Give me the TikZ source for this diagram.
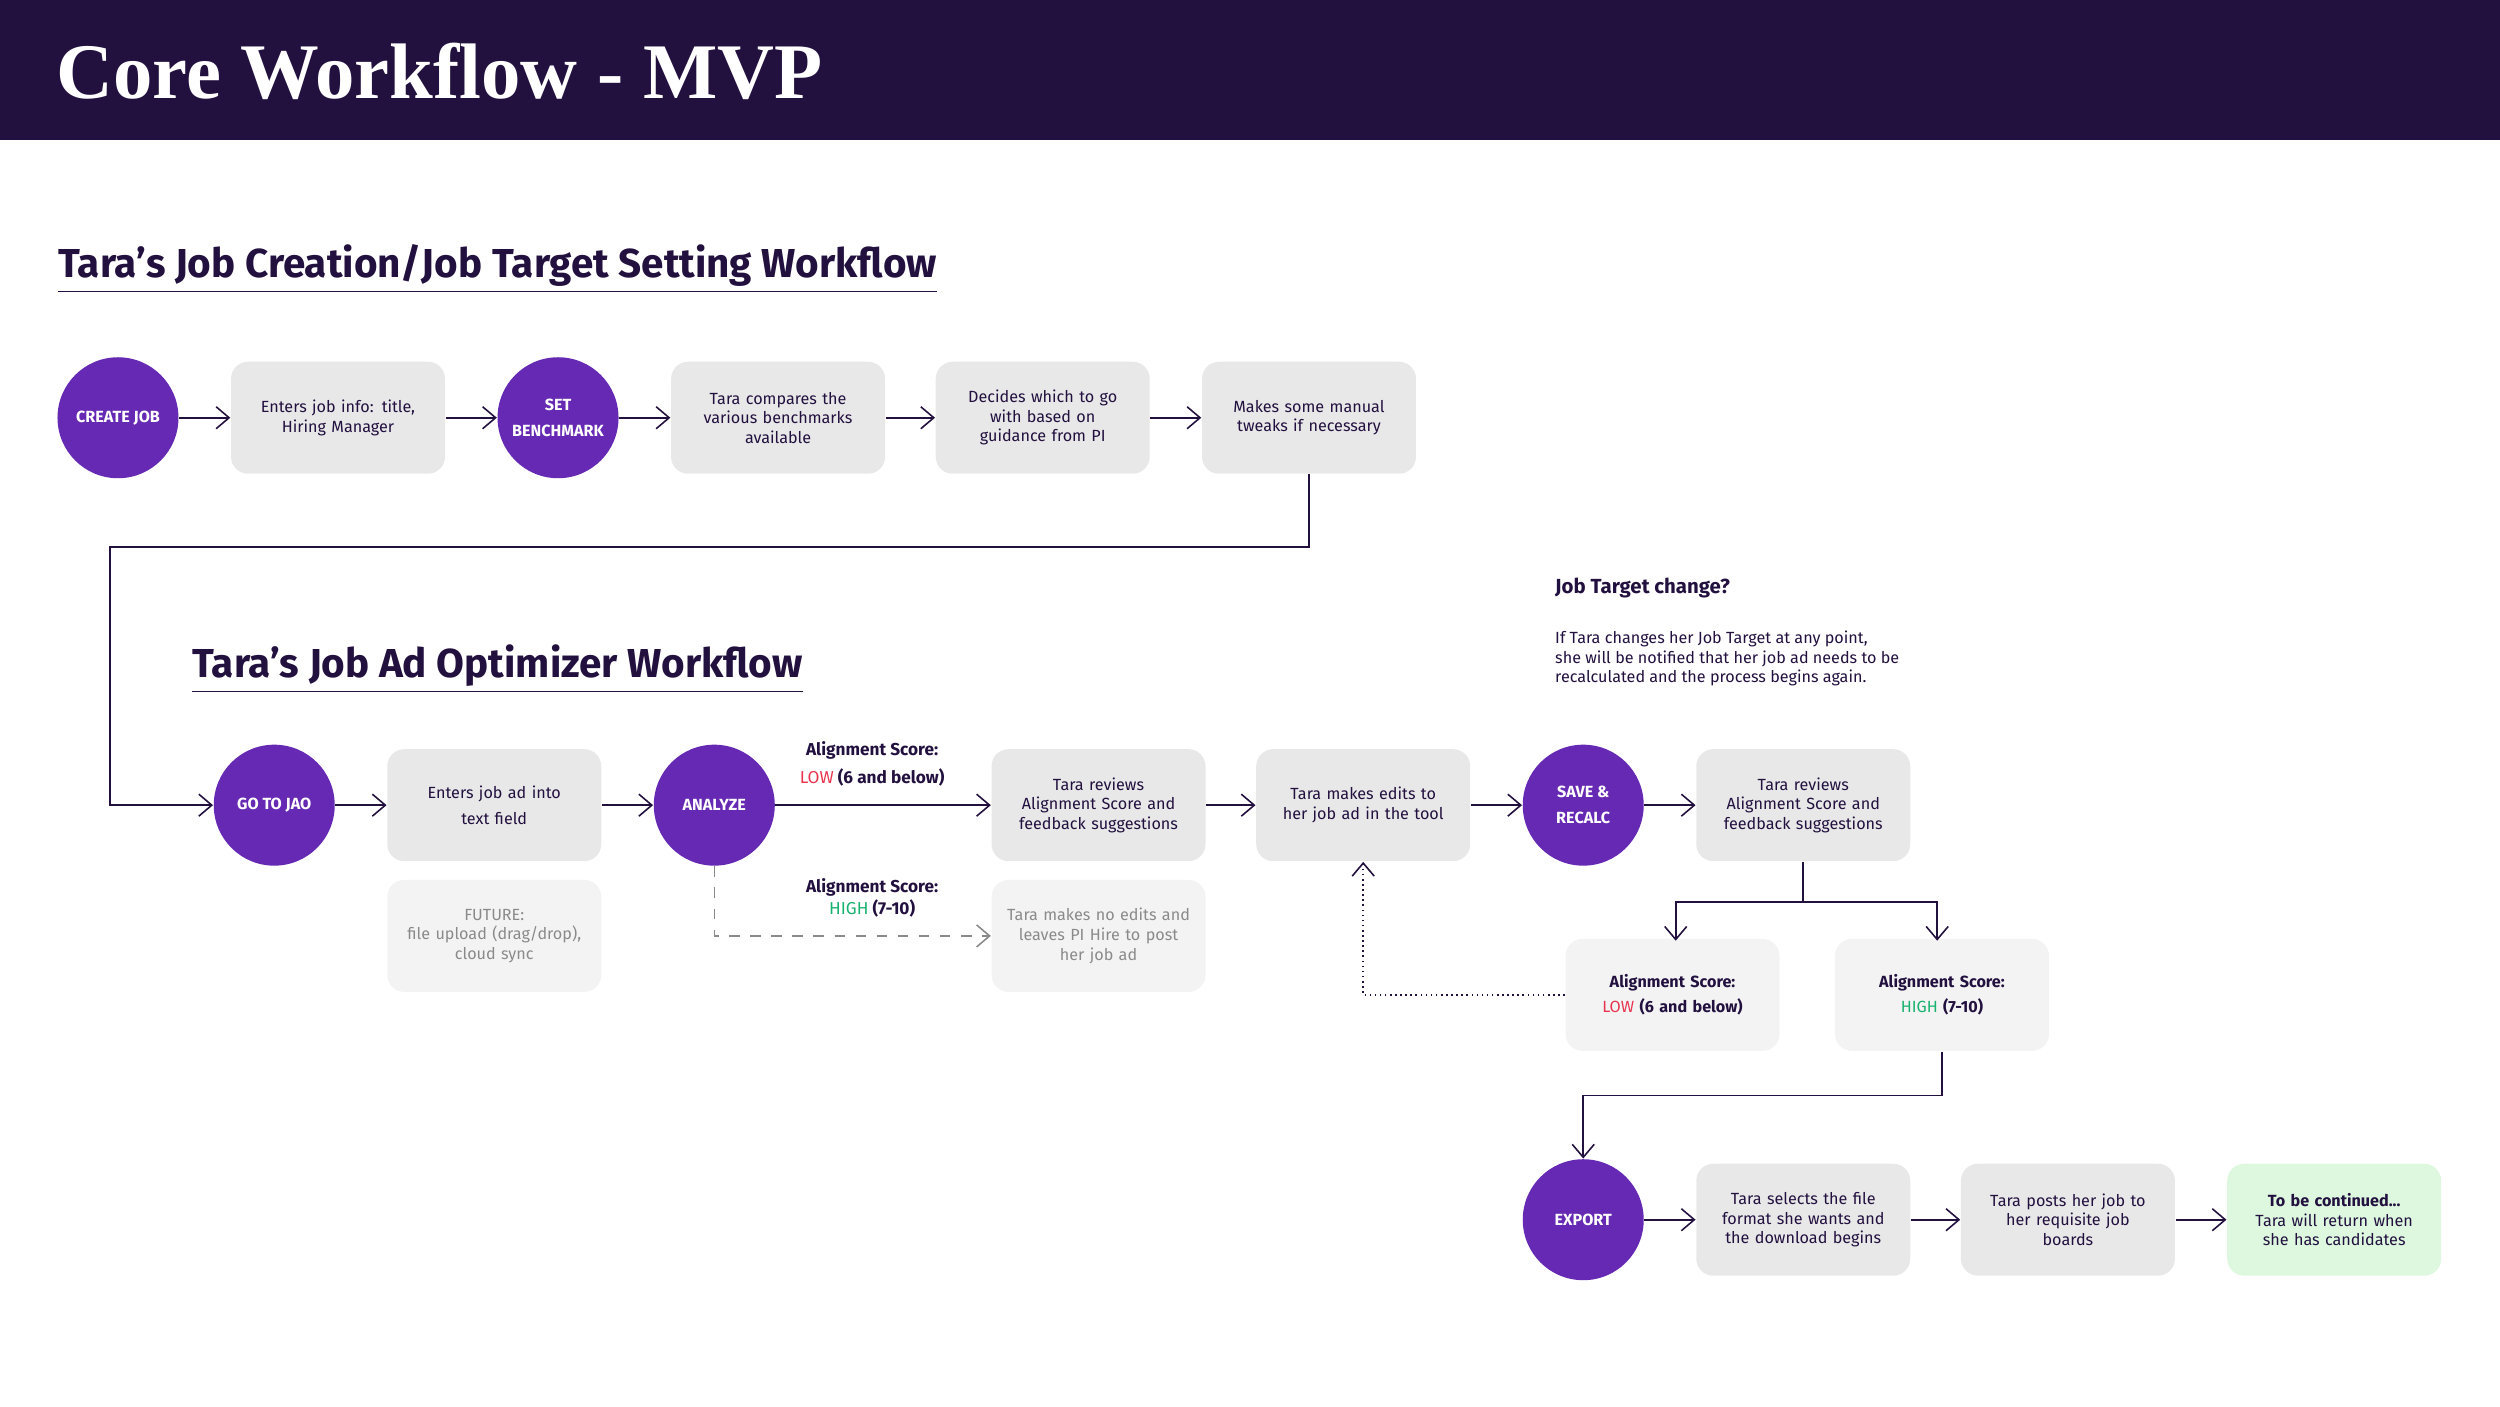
\documentclass[tikz,border=0pt]{standalone}
\usepackage{fontspec}
\setmainfont{Fira Sans}
\newfontfamily\titlefont{Liberation Serif}
\usetikzlibrary{arrows.meta}
\definecolor{ink}{HTML}{22103F}
\definecolor{violet}{HTML}{6629B3}
\definecolor{boxgray}{HTML}{E8E8E8}
\definecolor{fadegray}{HTML}{F3F3F3}
\definecolor{fadetext}{HTML}{8A8A8A}
\definecolor{lowred}{HTML}{E8334F}
\definecolor{highgreen}{HTML}{17B26F}
\definecolor{donegreen}{HTML}{DDF8DF}
\begin{document}
\begin{tikzpicture}
    [
        x=0.015944cm, y=-0.015944cm,
        stage/.style={circle, fill=violet, minimum size=1.21cm, inner sep=0pt,
            text=white, font=\fontsize{4.6}{8}\selectfont\bfseries, align=center},
        task/.style={rounded corners=0.17cm, fill=boxgray, minimum width=2.14cm,
            minimum height=1.12cm, text width=1.9cm, align=center, text=ink,
            font=\fontsize{4.6}{5.6}\selectfont},
        faded/.style={task, fill=fadegray, text=fadetext},
        score/.style={task, fill=fadegray, font=\fontsize{4.6}{7.2}\selectfont},
        edge/.style={-{Straight Barb[length=1.3mm,width=2.2mm]}, draw=ink, line width=0.45pt},
        link/.style={draw=ink, line width=0.45pt},
        heading/.style={anchor=base west, inner sep=0pt, text=ink, font=\fontsize{11.5}{14}\selectfont\bfseries},
        scorelbl/.style={text=ink, font=\fontsize{4.6}{6}\selectfont\bfseries, align=center},
    ]

    \useasboundingbox (0,0) rectangle (1568,882);

    % header band
    \fill[ink] (0,0) rectangle (1568,88);
    \node (title) at (35,62) [anchor=base west, inner sep=0pt, text=white,
        font=\titlefont\fontsize{22.4}{26}\selectfont\bfseries] {Core Workflow - MVP};

    % job creation workflow
    \node (h1) at (36,174) [heading] {\underline{Tara’s Job Creation/Job Target Setting Workflow}};
    \node (create) at (74,262)  [stage] {CREATE JOB};
    \node (info)   at (212,262) [task] {Enters job info: title,\\Hiring Manager};
    \node (bench)  at (350,262) [stage, font=\fontsize{4.6}{7.5}\selectfont\bfseries] {SET\\BENCHMARK};
    \node (comp)   at (488,262) [task] {Tara compares the\\various benchmarks\\available};
    \node (decide) at (654,262) [task] {Decides which to go\\with based on\\guidance from PI};
    \node (tweak)  at (821,262) [task] {Makes some manual\\tweaks if necessary};
    \draw [edge] (create) -- (info);
    \draw [edge] (info) -- (bench);
    \draw [edge] (bench) -- (comp);
    \draw [edge] (comp) -- (decide);
    \draw [edge] (decide) -- (tweak);

    % job ad optimizer workflow
    \node (h2) at (120,425) [heading] {\underline{Tara’s Job Ad Optimizer Workflow}};
    \node (jao)     at (172,505) [stage] {GO TO JAO};
    \node (enter)   at (310,505) [task, font=\fontsize{4.6}{7.5}\selectfont] {Enters job ad into\\text field};
    \node (future)  at (310,587) [faded] {FUTURE:\\file upload (drag/drop),\\cloud sync};
    \node (analyze) at (448,505) [stage] {ANALYZE};
    \node (review1) at (689,505) [task] {Tara reviews\\Alignment Score and\\feedback suggestions};
    \node (noedit)  at (689,587) [faded] {Tara makes no edits and\\leaves PI Hire to post\\her job ad};
    \node (edits)   at (855,505) [task] {Tara makes edits to\\her job ad in the tool};
    \node (save)    at (993,505) [stage, font=\fontsize{4.6}{7.5}\selectfont\bfseries] {SAVE \&\\RECALC};
    \node (review2) at (1131,505) [task] {Tara reviews\\Alignment Score and\\feedback suggestions};
    \node (low)     at (1049,624) [score] {\textbf{Alignment Score:}\\{\color{lowred}LOW} \textbf{(6 and below)}};
    \node (high)    at (1218,624) [score] {\textbf{Alignment Score:}\\{\color{highgreen}HIGH} \textbf{(7-10)}};
    \node (lowlbl)  at (547,479) [scorelbl, font=\fontsize{4.9}{8}\selectfont\bfseries] {Alignment Score:\\{\color{lowred}\mdseries LOW} (6 and below)};
    \node (highlbl) at (547,563) [scorelbl, font=\fontsize{4.9}{6.2}\selectfont\bfseries] {Alignment Score:\\{\color{highgreen}\mdseries HIGH} (7-10)};
    \coordinate (lowin)  at (1051,590);
    \coordinate (highin) at (1215,590);
    \draw [edge] (jao) -- (enter);
    \draw [edge] (enter) -- (analyze);
    \draw [edge] (analyze) -- (review1);
    \draw [edge] (review1) -- (edits);
    \draw [edge] (edits) -- (save);
    \draw [edge] (save) -- (review2);
    \draw [edge, draw=fadetext, dashed] (analyze.south) |- (noedit.west);
    \draw [link] (review2.south) -- ++(0,25) coordinate (split);
    \draw [edge] (split) -| (lowin);
    \draw [edge] (split) -| (highin);
    \draw [edge, densely dotted] (low.west) -| (edits.south);

    % link between the workflows
    \draw [edge] (tweak.south) |- (69,343) |- (jao.west);

    % job target note
    \node (jtc) at (975,369) [anchor=west, inner sep=0pt, text=ink, font=\fontsize{5.8}{7}\selectfont\bfseries] {Job Target change?};
    \node (note) at (975,413) [anchor=west, inner sep=0pt, align=left, text=ink, font=\fontsize{4.6}{5.6}\selectfont]
        {If Tara changes her Job Target at any point,\\she will be notified that her job ad needs to be\\recalculated and the process begins again.};

    % export
    \node (export) at (993,765)  [stage] {EXPORT};
    \node (format) at (1131,765) [task] {Tara selects the file\\format she wants and\\the download begins};
    \node (post)   at (1297,765) [task] {Tara posts her job to\\her requisite job\\boards};
    \node (cont)   at (1464,765) [task, fill=donegreen] {\textbf{To be continued...}\\Tara will return when\\she has candidates};
    \coordinate (exbend) at (993,687);
    \draw [edge] (high.south) |- (exbend) -- (export.north);
    \draw [edge] (export) -- (format);
    \draw [edge] (format) -- (post);
    \draw [edge] (post) -- (cont);

\end{tikzpicture}
\end{document}
